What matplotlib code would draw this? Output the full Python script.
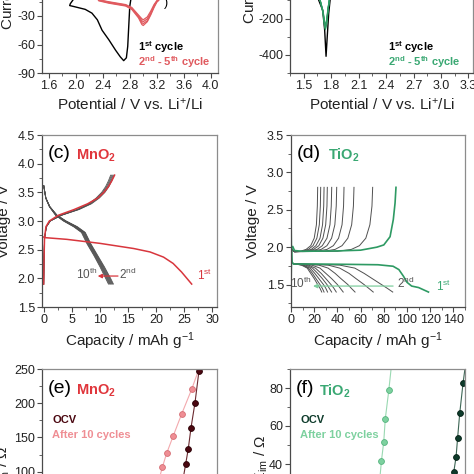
import numpy as np
import matplotlib
matplotlib.use("Agg")
import matplotlib.pyplot as plt
from matplotlib.ticker import MultipleLocator, AutoMinorLocator, FormatStrFormatter

plt.rcParams['font.family'] = ['Liberation Sans', 'DejaVu Sans']
plt.rcParams['axes.unicode_minus'] = False
plt.rcParams['mathtext.fontset'] = 'custom'
plt.rcParams['mathtext.rm'] = 'Liberation Sans'
plt.rcParams['mathtext.it'] = 'Liberation Sans:italic'
plt.rcParams['mathtext.bf'] = 'Liberation Sans:bold'

# ---------------- data ----------------
# (a) MnO2 CV
a_v1 = [1.99, 1.96, 1.92, 1.91, 1.97, 2.14, 2.24, 2.32, 2.39, 2.49, 2.59, 2.66, 2.71, 2.75, 2.77, 2.785, 2.80, 2.815, 2.84]
a_i1 = [5, -13, -17, -19, -20, -23, -27, -34, -45, -55, -66, -73, -77, -74, -62, -41, -20, -13, 5]
a_v25 = [2.30, 2.34, 2.49, 2.74, 2.83, 2.93, 2.98, 3.00, 3.06, 3.11, 3.16, 3.20, 3.23, 3.26]
a_i2 = [-8, -13, -15, -18, -21, -29, -33, -34, -31, -25, -18, -14, -12, -8]
a_i3 = [-8, -13, -15.5, -18.5, -22, -30, -35, -36, -33, -27, -19, -14.5, -12.5, -8]
a_i4 = [-8, -13.5, -16, -19, -22.5, -31, -37, -38, -35, -28, -20, -15, -13, -8]
a_i5 = [-8, -14, -16.5, -19.5, -23, -32, -39, -40, -36, -29, -21, -15.5, -13.5, -8]

# (b) TiO2 CV
b_v1 = [1.64, 1.664, 1.707, 1.729, 1.744, 1.759, 1.773, 1.788, 1.80]
b_i1 = [-40, -99, -154, -264, -408, -283, -172, -99, -40]
b_v25 = [1.66, 1.679, 1.712, 1.729, 1.737, 1.751, 1.766, 1.780, 1.79]
b_i2 = [-40, -99, -160, -225, -235, -205, -140, -99, -40]
b_i3 = [-40, -99, -165, -235, -245, -215, -146, -99, -40]
b_i4 = [-40, -99, -170, -242, -254, -222, -150, -99, -40]
b_i5 = [-40, -99, -172, -246, -261, -228, -154, -99, -40]

# (c) MnO2 galvanostatic
c_cap_d1 = [0, 0.2, 4.1, 10.0, 16.0, 18.9, 21.3, 23.0, 24.5, 26.3]
c_v_d1 = [2.72, 2.71, 2.68, 2.61, 2.52, 2.46, 2.37, 2.26, 2.11, 1.90]
c_v_chg = [1.90, 2.30, 2.70, 2.90, 3.00, 3.10, 3.20, 3.30, 3.40, 3.50, 3.60, 3.70, 3.80]
c_cap_c1 = [0, 0.05, 0.15, 0.40, 1.0, 2.6, 5.4, 7.8, 9.6, 10.7, 11.5, 12.1, 12.6]
c_cap_chg = [
    [0, 0.05, 0.15, 0.50, 1.20, 3.20, 6.30, 8.50, 9.90, 10.90, 11.60, 12.10, 12.50],
    [0, 0.05, 0.15, 0.49, 1.18, 3.15, 6.20, 8.37, 9.75, 10.75, 11.45, 11.95, 12.35],
    [0, 0.05, 0.15, 0.48, 1.15, 3.10, 6.10, 8.25, 9.60, 10.60, 11.30, 11.80, 12.20],
    [0, 0.05, 0.15, 0.46, 1.12, 3.05, 6.00, 8.12, 9.45, 10.45, 11.15, 11.65, 12.05],
    [0, 0.05, 0.15, 0.45, 1.10, 3.00, 5.90, 8.00, 9.30, 10.30, 11.00, 11.50, 11.90],
]
c_v_dis = [3.62, 3.40, 3.25, 3.10, 3.00, 2.90, 2.80, 2.60, 2.40, 2.20, 2.00, 1.90]
c_cap_dis = [
    [0, 0.40, 1.10, 2.40, 4.00, 6.00, 7.40, 8.40, 9.60, 10.80, 11.90, 12.40],
    [0, 0.40, 1.09, 2.36, 3.94, 5.91, 7.32, 8.32, 9.51, 10.70, 11.79, 12.29],
    [0, 0.39, 1.08, 2.33, 3.88, 5.83, 7.24, 8.24, 9.43, 10.60, 11.68, 12.18],
    [0, 0.39, 1.07, 2.29, 3.81, 5.74, 7.15, 8.16, 9.34, 10.50, 11.56, 12.06],
    [0, 0.38, 1.06, 2.25, 3.75, 5.65, 7.06, 8.07, 9.26, 10.40, 11.45, 11.95],
    [0, 0.37, 1.04, 2.21, 3.69, 5.56, 6.97, 7.98, 9.17, 10.30, 11.34, 11.84],
    [0, 0.37, 1.03, 2.18, 3.63, 5.47, 6.88, 7.88, 9.08, 10.20, 11.23, 11.73],
    [0, 0.36, 1.02, 2.14, 3.56, 5.39, 6.79, 7.79, 8.99, 10.10, 11.11, 11.61],
    [0, 0.35, 1.00, 2.10, 3.50, 5.30, 6.70, 7.70, 8.90, 10.00, 11.00, 11.50],
]

# (d) TiO2 galvanostatic
d_cap_d1 = [0, 0.3, 1.0, 2.0, 20, 50, 75, 88, 93, 97, 100, 104, 110, 118.5]
d_v_d1 = [2.45, 2.00, 1.80, 1.775, 1.775, 1.77, 1.765, 1.745, 1.70, 1.61, 1.53, 1.48, 1.46, 1.40]
d_cap_c1 = [0, 0.5, 1.5, 3, 10, 40, 60, 74, 80, 85.4, 88.2, 89.7, 90.5]
d_v_c1 = [1.45, 1.98, 2.01, 1.955, 1.945, 1.95, 1.96, 2.00, 2.03, 2.14, 2.37, 2.59, 2.80]
d_v_dis = [1.80, 1.78, 1.76, 1.72, 1.65, 1.58, 1.50, 1.45, 1.40]
d_cap_dis = [
    [0, 2, 42, 55, 63, 70, 78, 83, 87.7],
    [0, 2, 32, 42, 50, 56, 63, 67, 70.9],
    [0, 2, 24, 32, 38, 43, 49, 52, 55.2],
    [0, 2, 18, 25, 30, 35, 40, 42.5, 45],
    [0, 2, 15, 21, 26, 30, 34.5, 37, 39],
    [0, 2, 13, 18.5, 23, 27, 31, 33, 35],
    [0, 2, 11, 16.5, 20.5, 24, 28, 30, 31.5],
    [0, 2, 10, 15, 18.5, 21.5, 25, 27, 28.5],
    [0, 2, 9, 14, 17, 20, 23, 25, 26.5],
]
d_v_chg = [1.50, 1.97, 1.94, 1.945, 1.97, 2.02, 2.12, 2.30, 2.55, 2.80]
d_cap_chg = [
    [0, 0.5, 3, 40, 52, 59, 64.5, 68, 69.8, 70.4],
    [0, 0.5, 3, 28, 38, 44, 49, 52.3, 53.8, 54.3],
    [0, 0.5, 3, 22, 31, 36.5, 41, 44, 45.3, 45.7],
    [0, 0.5, 3, 18, 26, 31, 35, 37.8, 39, 39.4],
    [0, 0.5, 3, 15, 22.5, 27, 31, 33.6, 34.7, 35.1],
    [0, 0.5, 3, 13, 19.5, 24, 27.5, 29.9, 31, 31.3],
    [0, 0.5, 3, 11, 17.5, 21.5, 25, 27.2, 28.2, 28.5],
    [0, 0.5, 3, 9, 15, 19, 22.3, 24.4, 25.3, 25.6],
    [0, 0.5, 3, 8, 13, 17, 20, 21.9, 22.7, 23.0],
]

# (e) MnO2 Nyquist
e_ocv_re = [200, 205.2, 209.0, 212.9, 218.6, 224.3, 232]
e_ocv_im = [80, 110.8, 133.6, 164.3, 200.9, 247.5, 300]
e_cyc_re = [165, 171.9, 178.1, 187.6, 199.5, 213.8, 226, 232]
e_cyc_im = [80, 106.3, 126.8, 152.5, 184.2, 220.3, 255, 270]

# (f) TiO2 Nyquist
f_ocv_re = [83.0, 84.2, 85.4, 86.2, 87.3, 89.0, 91]
f_ocv_im = [25, 35.6, 43.7, 53.7, 66.8, 82.6, 98]
f_cyc_re = [46.0, 47.0, 48.2, 49.0, 50.8, 52.5]
f_cyc_im = [30, 41.4, 51.6, 63.7, 78.7, 95]

# ---------------- style ----------------
W = H = 474.0
RED = '#d8363d'
RED_L = '#e05a5f'
GREEN = '#2e9a63'
GREEN_T = '#3aa873'
GRAY = '#505050'
TXT = '#222222'
TICK = 9
LBL = 11

fig = plt.figure(figsize=(4.74, 4.74), dpi=100)


def add_ax(left, top, right, bottom):
    return fig.add_axes([left / W, 1 - bottom / H, (right - left) / W, (bottom - top) / H])


def style(ax):
    for s in ['left', 'bottom']:
        ax.spines[s].set_color('#4a4a4a')
        ax.spines[s].set_linewidth(0.9)
    for s in ['top', 'right']:
        ax.spines[s].set_color('#8c8c8c')
        ax.spines[s].set_linewidth(0.9)
    ax.tick_params(which='major', direction='out', length=3.5, width=0.8, color='#4a4a4a',
                   labelsize=TICK, pad=1.5, labelcolor=TXT, top=False, right=False)
    ax.tick_params(which='minor', direction='out', length=2, width=0.6, color='#4a4a4a',
                   top=False, right=False)
    ax.xaxis.set_minor_locator(AutoMinorLocator(2))
    ax.yaxis.set_minor_locator(AutoMinorLocator(2))


def ylabel_at(ax, text, center_px, left_px, width_px, yfrac=0.5):
    ax.set_ylabel(text, fontsize=LBL, color=TXT)
    ax.yaxis.set_label_coords((center_px + 7 - left_px) / width_px, yfrac)


# (a)
axa = add_ax(42, 73 - 171, 217.5, 73)
axa.plot(a_v1, a_i1, color='black', lw=1.0)
for ii in [a_i2, a_i3, a_i4, a_i5]:
    axa.plot(a_v25, ii, color=RED_L, lw=0.9)
axa.set_xlim(1.5, 4.1)
axa.set_ylim(-90, 90)
axa.xaxis.set_major_locator(MultipleLocator(0.4))
axa.yaxis.set_major_locator(MultipleLocator(30))
axa.xaxis.set_major_formatter(FormatStrFormatter('%.1f'))
style(axa)
axa.set_xlabel(r'Potential / V vs. Li$^{+}$/Li', fontsize=LBL, color=TXT, labelpad=3)
ylabel_at(axa, r'Current / $\mu$A', 10, 42, 175.5)
axa.text(3.33, -16, ')', fontsize=9, color='black', ha='center', va='center')
axa.text(2.92, -62.5, r'$\mathbf{1^{st}}$ cycle', fontsize=8, fontweight='bold', color='black', va='center')
axa.text(2.92, -78, r'$\mathbf{2^{nd}}$ - $\mathbf{5^{th}}$ cycle', fontsize=8, fontweight='bold', color=RED_L, va='center')

# (b)
axb = add_ax(290, 73 - 181.5, 473, 73)
axb.plot(b_v1, b_i1, color='black', lw=1.0)
for ii in [b_i2, b_i3, b_i4, b_i5]:
    axb.plot(b_v25, ii, color=GREEN, lw=0.9)
axb.set_xlim(1.35, 3.35)
axb.set_ylim(-500, 500)
axb.xaxis.set_major_locator(MultipleLocator(0.3))
axb.yaxis.set_major_locator(MultipleLocator(200))
axb.xaxis.set_major_formatter(FormatStrFormatter('%.1f'))
style(axb)
axb.set_xlabel(r'Potential / V vs. Li$^{+}$/Li', fontsize=LBL, color=TXT, labelpad=3)
ylabel_at(axb, r'Current / $\mu$A', 252, 290, 183)
axb.text(2.42, -355, r'$\mathbf{1^{st}}$ cycle', fontsize=8, fontweight='bold', color='black', va='center')
axb.text(2.42, -438, r'$\mathbf{2^{nd}}$ - $\mathbf{5^{th}}$ cycle', fontsize=8, fontweight='bold', color=GREEN_T, va='center')

# (c)
axc = add_ax(42, 135, 217, 307)
for cc in c_cap_dis:
    axc.plot(cc, c_v_dis, color=GRAY, lw=0.55)
for cc in c_cap_chg:
    axc.plot(cc, c_v_chg, color=GRAY, lw=0.55)
axc.plot(c_cap_d1, c_v_d1, color=RED, lw=1.1)
axc.plot(c_cap_c1, c_v_chg, color=RED, lw=1.1)
axc.set_xlim(-0.3, 30.8)
axc.set_ylim(1.5, 4.5)
axc.xaxis.set_major_locator(MultipleLocator(5))
axc.yaxis.set_major_locator(MultipleLocator(0.5))
axc.yaxis.set_major_formatter(FormatStrFormatter('%.1f'))
style(axc)
axc.set_xlabel(r'Capacity / mAh g$^{-1}$', fontsize=LBL, color=TXT, labelpad=3)
ylabel_at(axc, 'Voltage / V', 4, 42, 175)
axc.text(0.035, 0.895, '(c)', transform=axc.transAxes, fontsize=14, color='black', va='center')
axc.text(0.195, 0.88, r'$\mathbf{MnO_2}$', transform=axc.transAxes, fontsize=10.5, color='#e0363c', va='center')
axc.annotate('', xy=(9.6, 2.04), xytext=(13.2, 2.04),
             arrowprops=dict(arrowstyle='-|>', color=RED, lw=0.9, mutation_scale=6,
                             shrinkA=0, shrinkB=0))
axc.text(9.5, 2.06, r'10$^{\mathrm{th}}$', fontsize=8.5, color='#555555', ha='right', va='center')
axc.text(13.3, 2.06, r'2$^{\mathrm{nd}}$', fontsize=8.5, color='#555555', ha='left', va='center')
axc.text(27.2, 2.05, r'1$^{\mathrm{st}}$', fontsize=8.5, color=RED, ha='left', va='center')

# (d)
axd = add_ax(291, 135, 465, 307)
for cc in d_cap_dis:
    axd.plot(cc, d_v_dis, color=GRAY, lw=0.7)
for cc in d_cap_chg:
    axd.plot(cc, d_v_chg, color=GRAY, lw=0.7)
axd.plot(d_cap_d1, d_v_d1, color=GREEN, lw=1.2)
axd.plot(d_cap_c1, d_v_c1, color=GREEN, lw=1.2)
axd.set_xlim(0, 150)
axd.set_ylim(1.2, 3.5)
axd.xaxis.set_major_locator(MultipleLocator(20))
axd.yaxis.set_major_locator(MultipleLocator(0.5))
axd.yaxis.set_major_formatter(FormatStrFormatter('%.1f'))
style(axd)
axd.set_xlabel(r'Capacity / mAh g$^{-1}$', fontsize=LBL, color=TXT, labelpad=3)
ylabel_at(axd, 'Voltage / V', 253, 291, 174)
axd.text(0.035, 0.895, '(d)', transform=axd.transAxes, fontsize=14, color='black', va='center')
axd.text(0.215, 0.88, r'$\mathbf{TiO_2}$', transform=axd.transAxes, fontsize=10.5, color=GREEN_T, va='center')
axd.annotate('', xy=(19, 1.48), xytext=(88, 1.48),
             arrowprops=dict(arrowstyle='-|>', color='#7fcf9f', lw=0.9, mutation_scale=6,
                             shrinkA=0, shrinkB=0))
axd.text(18, 1.51, r'10$^{\mathrm{th}}$', fontsize=8.5, color='#555555', ha='right', va='center')
axd.text(91, 1.51, r'2$^{\mathrm{nd}}$', fontsize=8.5, color='#555555', ha='left', va='center')
axd.text(125, 1.48, r'1$^{\mathrm{st}}$', fontsize=8.5, color=GREEN_T, ha='left', va='center')

# (e)
axe = add_ax(42, 369, 217, 540)
axe.plot(e_cyc_re, e_cyc_im, color='#f3a9ad', lw=0.8, marker='o', ms=4.2,
         mfc='#ef8e94', mec='#d66d74', mew=0.6)
axe.plot(e_ocv_re, e_ocv_im, color='#6b2a30', lw=0.8, marker='o', ms=4.2,
         mfc='#4a0710', mec='#2a0005', mew=0.6)
axe.set_xlim(0, 250)
axe.set_ylim(0, 250)
axe.xaxis.set_major_locator(MultipleLocator(50))
axe.yaxis.set_major_locator(MultipleLocator(50))
style(axe)
ylabel_at(axe, r'$-$Z$_{\mathrm{im}}$ / $\Omega$', 5, 42, 175, yfrac=0.39)
axe.text(0.035, 0.885, '(e)', transform=axe.transAxes, fontsize=14, color='black', va='center')
axe.text(0.195, 0.87, r'$\mathbf{MnO_2}$', transform=axe.transAxes, fontsize=10.5, color='#e0363c', va='center')
axe.text(0.06, 0.70, 'OCV', transform=axe.transAxes, fontsize=8, fontweight='bold', color='#4a0710', va='center')
axe.text(0.06, 0.615, 'After 10 cycles', transform=axe.transAxes, fontsize=8, fontweight='bold', color='#ef8e94', va='center')

# (f)
axf = add_ax(290, 369, 465, 540)
axf.plot(f_cyc_re, f_cyc_im, color='#9ad9b2', lw=0.8, marker='o', ms=4.2,
         mfc='#7dd19f', mec='#55b47e', mew=0.6)
axf.plot(f_ocv_re, f_ocv_im, color='#3d6655', lw=0.8, marker='o', ms=4.2,
         mfc='#0e3b2b', mec='#031f14', mew=0.6)
axf.set_xlim(0, 90)
axf.set_ylim(0, 90)
axf.xaxis.set_major_locator(MultipleLocator(20))
axf.yaxis.set_major_locator(MultipleLocator(20))
style(axf)
ylabel_at(axf, r'$-$Z$_{\mathrm{im}}$ / $\Omega$', 263, 290, 175, yfrac=0.455)
axf.text(0.035, 0.885, '(f)', transform=axf.transAxes, fontsize=14, color='black', va='center')
axf.text(0.165, 0.87, r'$\mathbf{TiO_2}$', transform=axf.transAxes, fontsize=10.5, color=GREEN_T, va='center')
axf.text(0.06, 0.70, 'OCV', transform=axf.transAxes, fontsize=8, fontweight='bold', color='#0e3b2b', va='center')
axf.text(0.06, 0.615, 'After 10 cycles', transform=axf.transAxes, fontsize=8, fontweight='bold', color='#7dd19f', va='center')

fig.savefig('out.png', dpi=100)
